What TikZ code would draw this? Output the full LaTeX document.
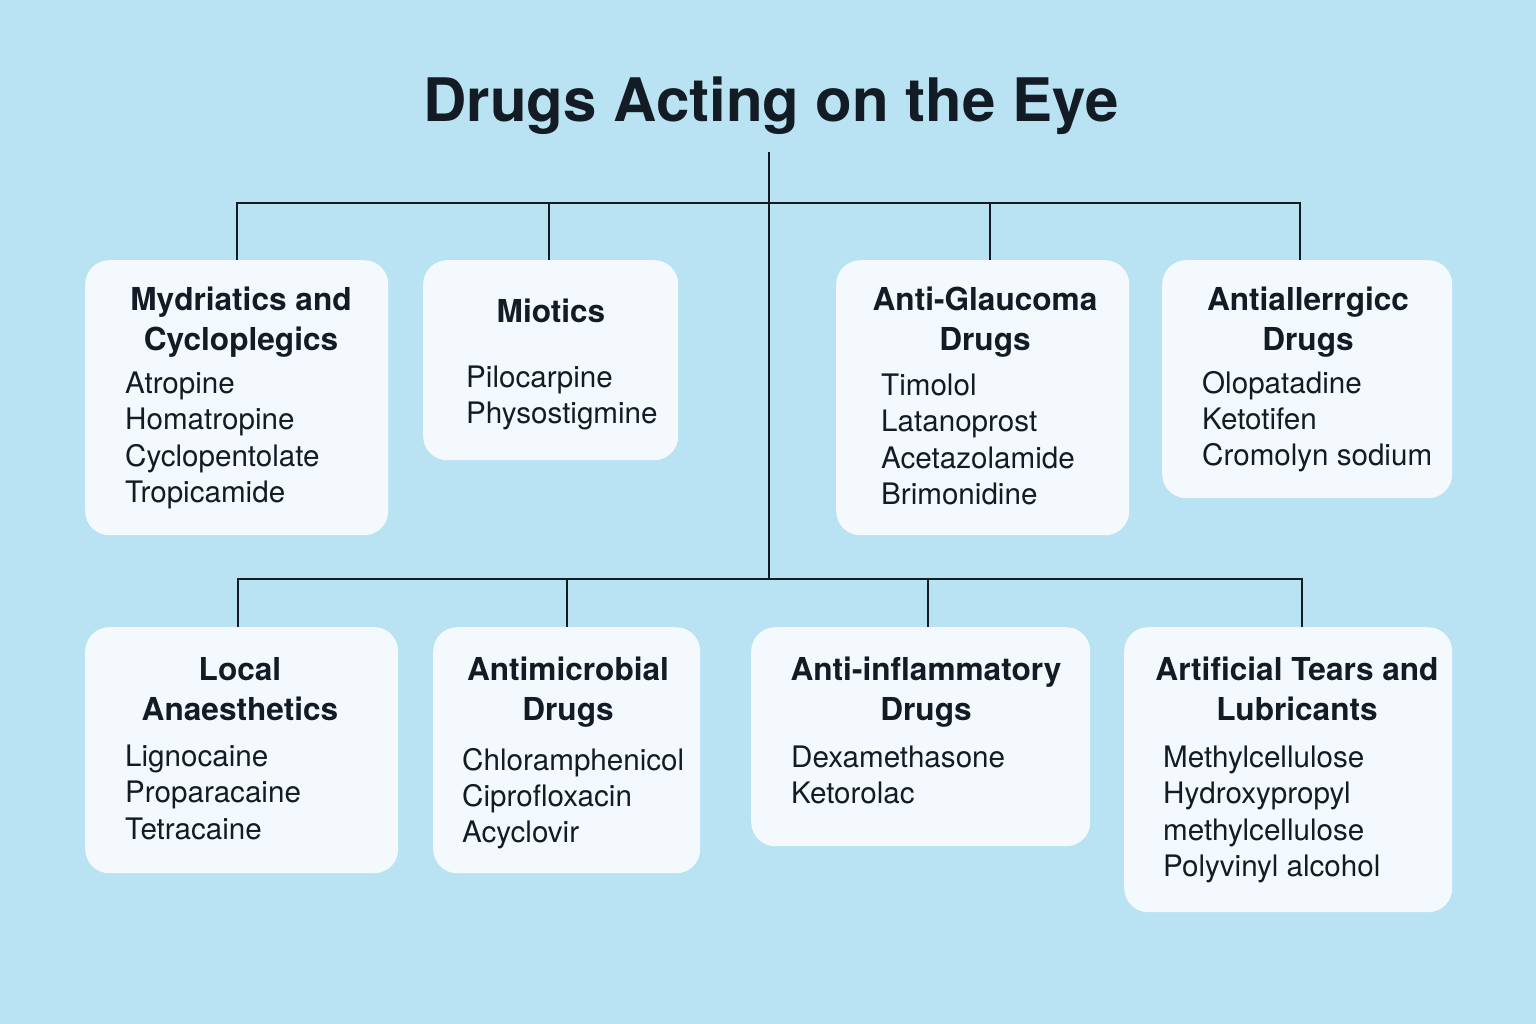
\documentclass[tikz,border=0pt]{standalone}
\usepackage{fontspec}
\setmainfont{TeX Gyre Heros}
\definecolor{sky}{HTML}{B9E3F2}
\definecolor{cardfill}{HTML}{F3F9FC}
\definecolor{ink}{HTML}{131C25}
\tikzset{
  card/.style={fill=cardfill, rounded corners=24pt, inner sep=0pt, anchor=north west},
  head/.style={font=\fontsize{31.6}{40}\selectfont\bfseries, align=center, inner sep=0pt, anchor=north, text=ink},
  drugs/.style={font=\fontsize{29.6}{36.2}\selectfont, align=left, inner sep=0pt, anchor=north west, text=ink},
  link/.style={line width=2pt, color=ink}
}
\begin{document}
\begin{tikzpicture}[x=1pt, y=-1pt]

\fill[sky] (0,0) rectangle (1536,1024);
\useasboundingbox (0,0) rectangle (1536,1024);

\node[font=\fontsize{60}{66}\selectfont\bfseries, text=ink, anchor=base, inner sep=0pt] (title) at (771,122) {Drugs Acting on the Eye};

\coordinate (hubA) at (769,203);
\coordinate (hubB) at (769,579);

% top row
\node[card, minimum width=303pt, minimum height=275pt] (mydr) at (85,260) {};
\node[card, minimum width=255pt, minimum height=200pt] (miot) at (423,260) {};
\node[card, minimum width=293pt, minimum height=275pt] (glau) at (836,260) {};
\node[card, minimum width=290pt, minimum height=238pt] (allg) at (1162,260) {};

% bottom row
\node[card, minimum width=313pt, minimum height=246pt] (anae) at (85,627) {};
\node[card, minimum width=267pt, minimum height=246pt] (amic) at (433,627) {};
\node[card, minimum width=339pt, minimum height=219pt] (infl) at (751,627) {};
\node[card, minimum width=328pt, minimum height=285pt] (tear) at (1124,627) {};

\node[head] (mydrh) at (241,287) {Mydriatics and\\Cycloplegics};
\node[drugs] (mydrl) at (125,372) {Atropine\\Homatropine\\Cyclopentolate\\Tropicamide};

\node[head] (mioth) at (551,299) {Miotics};
\node[drugs] (miotl) at (466,366) {Pilocarpine\\Physostigmine};

\node[head] (glauh) at (985,287) {Anti-Glaucoma\\Drugs};
\node[drugs] (glaul) at (881,374) {Timolol\\Latanoprost\\Acetazolamide\\Brimonidine};

\node[head] (allgh) at (1308,287) {Antiallerrgicc\\Drugs};
\node[drugs] (allgl) at (1202,371) {Olopatadine\\Ketotifen\\Cromolyn sodium};

\node[head] (anaeh) at (240,657) {Local\\Anaesthetics};
\node[drugs] (anael) at (125,745) {Lignocaine\\Proparacaine\\Tetracaine};

\node[head] (amich) at (568,657) {Antimicrobial\\Drugs};
\node[drugs] (amicl) at (462,748) {Chloramphenicol\\Ciprofloxacin\\Acyclovir};

\node[head] (inflh) at (926,657) {Anti-inflammatory\\Drugs};
\node[drugs] (infll) at (791,746) {Dexamethasone\\Ketorolac};

\node[head] (tearh) at (1297,657) {Artificial Tears and\\Lubricants};
\node[drugs] (tearl) at (1163,746) {Methylcellulose\\Hydroxypropyl\\methylcellulose\\Polyvinyl alcohol};

\draw[link] ([yshift=-17pt]title.south -| hubA) -- (hubA) -- (hubB);
\draw[link] (mydr.north) -- (mydr.north |- hubA) -- ([xshift=-7pt]allg.north |- hubA) -- ([xshift=-7pt]allg.north);
\draw[link] ([xshift=-2pt]miot.north |- hubA) -- ([xshift=-2pt]miot.north);
\draw[link] ([xshift=7pt]glau.north |- hubA) -- ([xshift=7pt]glau.north);
\draw[link] ([xshift=-4pt]anae.north) -- ([xshift=-4pt]anae.north |- hubB) -- ([xshift=14pt]tear.north |- hubB) -- ([xshift=14pt]tear.north);
\draw[link] (amic.north |- hubB) -- (amic.north);
\draw[link] ([xshift=7pt]infl.north |- hubB) -- ([xshift=7pt]infl.north);

\end{tikzpicture}
\end{document}
